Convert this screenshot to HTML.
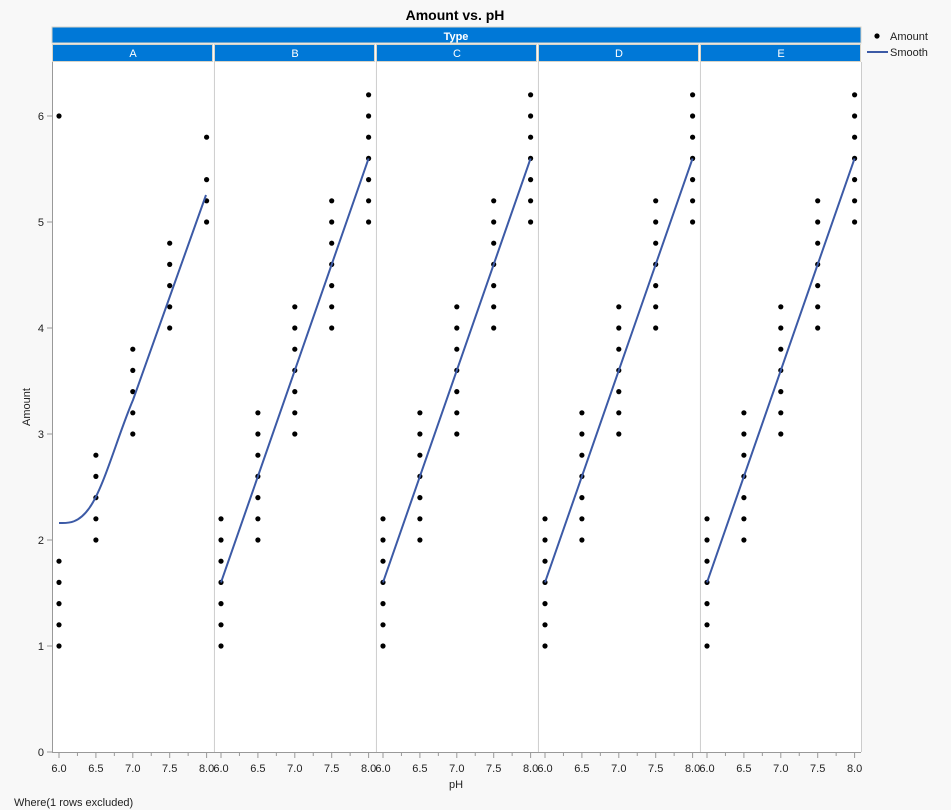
<!DOCTYPE html>
<html><head><meta charset="utf-8"><style>
body{margin:0;background:#f8f8f8;font-family:"Liberation Sans",sans-serif;}
svg{display:block}
text{font-family:"Liberation Sans",sans-serif}
</style></head><body>
<svg id="s" width="951" height="810" xmlns="http://www.w3.org/2000/svg"></svg>
<script>
const s=document.getElementById('s');let h='';
h+='<text x="455" y="20" font-size="14" font-weight="bold" text-anchor="middle">Amount vs. pH</text>';
h+='<rect x="52" y="27" width="809" height="16" fill="#0078d7" stroke="#d8d4c8"/>';
h+='<text x="456" y="40" font-size="11" font-weight="bold" fill="#fff" text-anchor="middle">Type</text>';
const L=['A','B','C','D','E'];
const Y=v=>752-106*v;
for(let i=0;i<5;i++){
 const x0=52+162*i, X=p=>x0+7+(p-6)*73.8;
 h+='<rect x="'+(x0+0.5)+'" y="44.5" width="160" height="17" fill="#0078d7" stroke="#d8d4c8"/>';
 h+='<text x="'+(x0+81)+'" y="57" font-size="11" fill="#fff" text-anchor="middle">'+L[i]+'</text>';
 h+='<rect x="'+(x0+0.5)+'" y="62" width="161" height="690" fill="#fff"/>';
 if(i>0)h+='<line x1="'+(x0+0.5)+'" y1="62" x2="'+(x0+0.5)+'" y2="752" stroke="#d0d0d0"/>';
 // ticks
 for(let k=0;k<=8;k++){const p=6+k*0.25,tx=X(p);h+='<line x1="'+tx+'" y1="752" x2="'+tx+'" y2="'+(k%2?756:758)+'" stroke="#999"/>';
  if(k%2==0)h+='<text x="'+tx+'" y="772" font-size="11" text-anchor="middle" fill="#222">'+p.toFixed(1)+'</text>';}
 let pts=[];
 if(i==0){
  [[6,[1,1.2,1.4,1.6,1.8,6]],[6.5,[2,2.2,2.4,2.6,2.8]],[7,[3,3.2,3.4,3.6,3.8]],[7.5,[4,4.2,4.4,4.6,4.8]],[8,[5,5.2,5.4,5.8]]].forEach(a=>a[1].forEach(v=>pts.push([a[0],v])));
 }else{
  for(let j=0;j<5;j++){const p=6+j*0.5;for(let v=1+j;v<=2.21+j;v+=0.2)pts.push([p,v]);}
 }
 pts.forEach(q=>h+='<circle cx="'+X(q[0])+'" cy="'+Y(q[1])+'" r="2.6" fill="#000"/>');
 if(i==0){
  h+='<path d="M59,523 C66,523 78,525 90,507 C104,487 118,435 133,400 L206,195" fill="none" stroke="#3c5aa6" stroke-width="2"/>';
 }else{
  h+='<line x1="'+X(6)+'" y1="'+Y(1.6)+'" x2="'+X(8)+'" y2="'+Y(5.6)+'" stroke="#3c5aa6" stroke-width="2"/>';
 }
}
h+='<line x1="52.5" y1="62" x2="52.5" y2="752" stroke="#999"/>';
h+='<line x1="52" y1="752.5" x2="861" y2="752.5" stroke="#999"/>';
h+='<line x1="861.5" y1="62" x2="861.5" y2="752" stroke="#ccc"/>';
for(let v=0;v<=6;v++){h+='<line x1="47" y1="'+Y(v)+'" x2="52" y2="'+Y(v)+'" stroke="#999"/><text x="44" y="'+(Y(v)+4)+'" font-size="11" text-anchor="end" fill="#222">'+v+'</text>';}
h+='<text transform="translate(30,407) rotate(-90)" font-size="11" text-anchor="middle" fill="#222">Amount</text>';
h+='<text x="456" y="788" font-size="11" text-anchor="middle" fill="#222">pH</text>';
h+='<text x="14" y="806" font-size="11" fill="#222">Where(1 rows excluded)</text>';
h+='<circle cx="877" cy="36" r="2.6" fill="#000"/><text x="890" y="40" font-size="11" fill="#222">Amount</text>';
h+='<line x1="867" y1="52" x2="888" y2="52" stroke="#3c5aa6" stroke-width="2"/><text x="890" y="56" font-size="11" fill="#222">Smooth</text>';
s.innerHTML=h;
</script>
</body></html>
